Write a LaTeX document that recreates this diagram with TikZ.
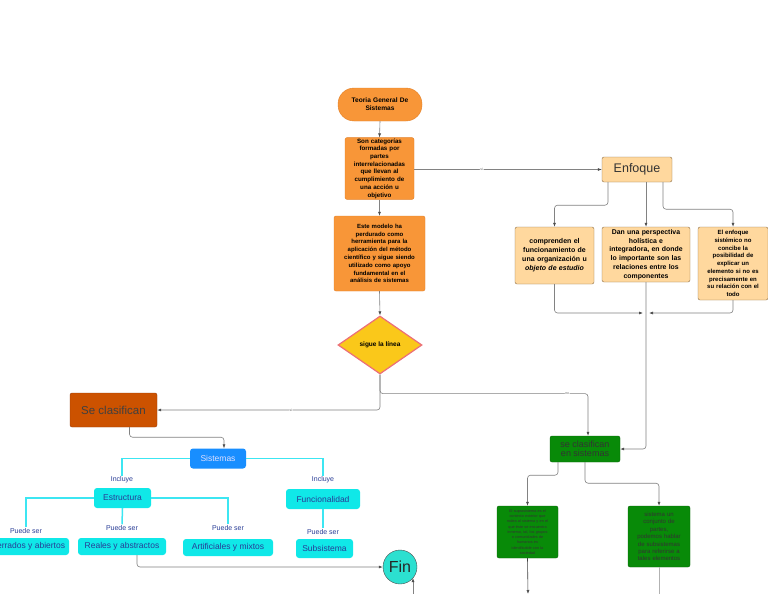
\documentclass[tikz,border=0pt]{standalone}
\usepackage{fontspec}
\setmainfont{Liberation Sans}
\usetikzlibrary{shapes.geometric, arrows.meta, positioning, calc}

\definecolor{orfill}{RGB}{248,150,56}
\definecolor{ordraw}{RGB}{226,128,40}
\definecolor{enfill}{RGB}{255,216,158}
\definecolor{endraw}{RGB}{140,110,70}
\definecolor{rustfill}{RGB}{204,82,0}
\definecolor{rustdraw}{RGB}{150,60,10}
\definecolor{bluefill}{RGB}{24,142,255}
\definecolor{cyanfill}{RGB}{16,232,232}
\definecolor{cyanline}{RGB}{60,230,242}
\definecolor{navytext}{RGB}{40,60,150}
\definecolor{greenfill}{RGB}{8,138,8}
\definecolor{greendraw}{RGB}{10,100,10}
\definecolor{fincolor}{RGB}{44,224,208}
\definecolor{diafill}{RGB}{250,200,26}
\definecolor{diadraw}{RGB}{236,110,120}
\definecolor{relgray}{RGB}{130,130,130}

\begin{document}
\begin{tikzpicture}[x=1pt, y=-1pt,
        orbox/.style={rectangle, draw=ordraw, fill=orfill, align=center, rounded corners=2pt, inner sep=1pt, font=\fontsize{6.2}{7.7}\selectfont\bfseries},
        enbox/.style={rectangle, draw=endraw, fill=enfill, align=center, rounded corners=2pt, inner sep=1pt, font=\fontsize{6.9}{8.8}\selectfont\bfseries},
        cybox/.style={rectangle, fill=cyanfill, align=center, rounded corners=3pt, inner sep=1pt, text=navytext, font=\fontsize{8.5}{9}\selectfont},
        grbox/.style={rectangle, draw=greendraw, fill=greenfill, align=center, rounded corners=2pt, inner sep=1pt, text=black!80},
        lbl/.style={font=\fontsize{7}{8}\selectfont, text=navytext, inner sep=1pt},
        yesno/.style={font=\fontsize{3.5}{4}\selectfont, text=black!60, fill=white, inner sep=0.5pt},
        rel/.style={-{Latex[length=4pt, width=3pt, color=black!70]}, draw=relgray, line width=0.6pt, rounded corners=3pt},
        plain/.style={draw=relgray, line width=0.6pt, rounded corners=3pt},
        cyl/.style={draw=cyanline, line width=1.5pt}
    ]

        \fill[white] (0,0) rectangle (768,594);
        \useasboundingbox (0,0) rectangle (768,594);

        % ----------------------------------------------------
        % MAIN COLUMN
        % ----------------------------------------------------
        \node[orbox, rounded corners=16pt, minimum width=84pt, minimum height=33pt, text width=70pt, font=\fontsize{6.6}{8}\selectfont\bfseries] (tgs) at (380,104.5) {Teoria General De\\Sistemas};

        \node[orbox, minimum width=69pt, minimum height=61pt, text width=66pt] (parts) at (379.5,168.5) {
            Son categorías\\
            formadas por\\
            partes\\
            interrelacionadas\\
            que llevan al\\
            cumplimiento de\\
            una acción u\\
            objetivo
        };

        \node[orbox, minimum width=91pt, minimum height=75pt, text width=88pt, font=\fontsize{6}{7.8}\selectfont\bfseries] (model) at (379.5,253.5) {
            Este modelo ha\\
            perdurado como\\
            herramienta para la\\
            aplicación del método\\
            científico y sigue siendo\\
            utilizado como apoyo\\
            fundamental en el\\
            análisis de sistemas
        };

        \node[diamond, draw=diadraw, line width=1.2pt, fill=diafill, aspect=1.45, minimum width=84pt, minimum height=58pt, inner sep=0pt, font=\fontsize{6.5}{7}\selectfont\bfseries] (line) at (380,345) {sigue la línea};

        % ----------------------------------------------------
        % ENFOQUE BRANCH
        % ----------------------------------------------------
        \node[enbox, minimum width=70pt, minimum height=25pt, font=\fontsize{12.5}{13}\selectfont, text=black!80] (enfoque) at (637,169.5) {Enfoque};

        \node[enbox, minimum width=79pt, minimum height=57pt, text width=77pt, font=\fontsize{7}{9}\selectfont\bfseries] (compA) at (554.5,255.5) {
            comprenden el\\
            funcionamiento de\\
            una organización u\\
            \textit{objeto de estudio}
        };

        \node[enbox, minimum width=88pt, minimum height=55pt, text width=86pt] (compB) at (646,254.5) {
            Dan una perspectiva\\
            holística e\\
            integradora, en donde\\
            lo importante son las\\
            relaciones entre los\\
            componentes
        };

        \node[enbox, minimum width=70pt, minimum height=73pt, text width=68pt, font=\fontsize{6}{7.7}\selectfont\bfseries] (compC) at (733,263.5) {
            El enfoque\\
            sistémico no\\
            concibe la\\
            posibilidad de\\
            explicar un\\
            elemento si no es\\
            precisamente en\\
            su relación con el\\
            todo
        };

        \coordinate (merge) at (646,313);

        % ----------------------------------------------------
        % "SI" BRANCH: CLASIFICACION
        % ----------------------------------------------------
        \node[rectangle, draw=rustdraw, fill=rustfill, rounded corners=2pt, minimum width=87pt, minimum height=34pt, text=black!75, font=\fontsize{11.5}{12}\selectfont] (seclas) at (113.5,410) {Se clasifican};

        \node[rectangle, fill=bluefill, rounded corners=3pt, minimum width=56pt, minimum height=20pt, text=blue!12, font=\fontsize{8.5}{9}\selectfont] (sist) at (218,458.5) {Sistemas};

        \node[lbl] (inc1) at (122,480) {Incluye};
        \node[lbl] (inc2) at (323,480) {Incluye};

        \node[cybox, minimum width=57pt, minimum height=20pt] (estr) at (122.5,498) {Estructura};
        \node[cybox, minimum width=74pt, minimum height=20pt] (func) at (323,499) {Funcionalidad};

        \node[lbl] (ps1) at (26,531) {Puede ser};
        \node[lbl] (ps2) at (122,528) {Puede ser};
        \node[lbl] (ps3) at (228,528) {Puede ser};
        \node[lbl] (ps4) at (323,532) {Puede ser};

        \node[cybox, minimum width=82pt, minimum height=17pt] (cerr) at (28,546.5) {Cerrados y abiertos};
        \node[cybox, minimum width=88pt, minimum height=17pt] (reales) at (122,546.5) {Reales y abstractos};
        \node[cybox, minimum width=90pt, minimum height=17pt] (artif) at (228,547.5) {Artificiales y mixtos};
        \node[cybox, minimum width=57pt, minimum height=19pt] (subsis) at (324.5,548.5) {Subsistema};

        \node[circle, draw=black!70, fill=fincolor, minimum size=34pt, inner sep=0pt, text=black!85, font=\fontsize{16}{17}\selectfont] (fin) at (400,567) {Fin};
        \coordinate (finin) at (413,594);

        % ----------------------------------------------------
        % "NO" BRANCH: SUPRASISTEMA / SUBSISTEMAS
        % ----------------------------------------------------
        \node[grbox, minimum width=70pt, minimum height=26pt, font=\fontsize{9}{9.5}\selectfont] (green) at (585,449) {se clasifican\\en sistemas};

        \node[grbox, minimum width=61pt, minimum height=52pt, text width=59pt, font=\fontsize{3.8}{5.3}\selectfont] (supra) at (527.5,532) {
            El suprasistema es el\\
            contexto exterior que\\
            rodea al sistema y en el\\
            que éste se encuentra\\
            inmerso, tal, los grupos\\
            o comunidades de\\
            humanos es\\
            identificable con la\\
            sociedad
        };

        \node[grbox, minimum width=62pt, minimum height=61pt, text width=60pt, font=\fontsize{6}{7.4}\selectfont] (subs) at (659,536.5) {
            sistema un\\
            conjunto de\\
            partes,\\
            podemos hablar\\
            de subsistemas\\
            para referirse a\\
            tales elementos
        };
        \coordinate (out1) at (528,594);
        \coordinate (out2) at (659,594);

        % ----------------------------------------------------
        % CONNECTORS
        % ----------------------------------------------------
        \draw[rel] (tgs.south) -- (parts.north);
        \draw[rel] (parts.south) -- (model.north);
        \draw[rel] (model.south) -- (line.north);
        \draw[rel] (parts.east |- enfoque.west) -- (enfoque.west) node[pos=0.36, yesno] {si};

        \draw[rel] ([xshift=-29pt]enfoque.south) -- ++(0,23) -| (compA.north);
        \draw[rel] (compB.north |- enfoque.south) -- (compB.north);
        \draw[rel] ([xshift=26pt]enfoque.south) -- ++(0,27) -| (compC.north);
        \draw[rel] (compA.south) |- ([xshift=-3pt]merge);
        \draw[rel] (compC.south) |- ([xshift=3pt]merge);
        \draw[rel] (compB.south) |- (green.east);

        \draw[rel] (line.south) |- (seclas.east) node[pos=0.7, yesno] {si};
        \draw[rel] (line.south) -- ++(0,19) -| ([xshift=3pt]green.north) node[pos=0.45, yesno] {no};

        \draw[rel] ([xshift=16pt]seclas.south) -- ++(0,10) -| ([xshift=6pt]sist.north);
        \draw[cyl] (sist.west) -| (inc1.north);
        \draw[cyl] (sist.east) -| (inc2.north);
        \draw[cyl] (estr.west) -| (ps1.north);
        \draw[cyl] (estr.south) -- (ps2.north);
        \draw[cyl] (estr.east) -| (ps3.north);
        \draw[cyl] (func.south) -- (ps4.north);

        \draw[rel] ([xshift=15pt]reales.south) |- (fin.west);
        \draw[rel] (finin) -- (finin |- fin.-40);

        \draw[rel] ([xshift=-27pt]green.south) -- ++(0,13) -| (supra.north);
        \draw[rel] (green.south) -- ++(0,21) -| (subs.north);
        \draw[rel, draw=black!75] (supra.south) -- (out1);
        \draw[plain, draw=black!30] (subs.south) -- (out2);

    \end{tikzpicture}
\end{document}
